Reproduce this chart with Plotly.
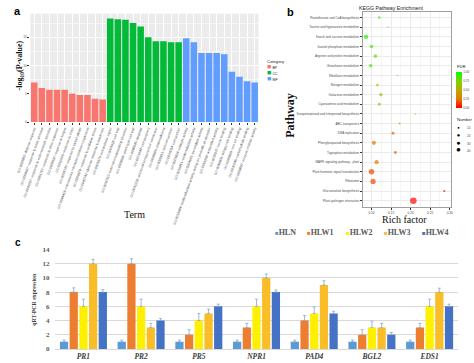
import numpy as np
import plotly.graph_objects as go

W, H = 474, 363

# ---------------- Panel a: GO enrichment ----------------
go_bp_terms = [
    "GO:0006952~defense response",
    "GO:0009607~response to biotic stimulus",
    "GO:0043207~response to external biotic stimulus",
    "GO:0051707~response to other organism",
    "GO:0009620~response to fungus",
    "GO:0010200~response to chitin",
    "GO:0009743~response to carbohydrate",
    "GO:0044419~interspecies interaction between organisms",
    "GO:0006979~response to oxidative stress",
    "GO:0042742~defense response to bacterium",
]
go_bp_values = [7.0, 6.0, 5.7, 5.7, 5.7, 5.05, 4.8, 4.8, 4.1, 4.0]

go_cc_terms = [
    "GO:0005576~extracellular region",
    "GO:0005618~cell wall",
    "GO:0030312~external encapsulating structure",
    "GO:0009505~plant-type cell wall",
    "GO:0048046~apoplast",
    "GO:0071944~cell periphery",
    "GO:0031225~anchored component of membrane",
    "GO:0009506~plasmodesma",
    "GO:0005911~cell-cell junction",
    "GO:0030054~cell junction",
]
go_cc_values = [18.3, 18.2, 18.1, 17.5, 16.9, 15.0, 14.3, 14.3, 14.1, 14.1]

go_mf_terms = [
    "GO:0003824~catalytic activity",
    "GO:0016491~oxidoreductase activity",
    "GO:0004601~peroxidase activity",
    "GO:0016684~oxidoreductase activity, acting on peroxide as acceptor",
    "GO:0016209~antioxidant activity",
    "GO:0020037~heme binding",
    "GO:0046906~tetrapyrrole binding",
    "GO:0005506~iron ion binding",
    "GO:0030246~carbohydrate binding",
    "GO:0004857~enzyme inhibitor activity",
]
go_mf_values = [14.8, 14.1, 12.2, 12.2, 12.2, 12.0, 8.9, 8.0, 7.2, 7.0]

go_categories = ["BP", "CC", "MF"]
go_ytick_vals = [0, 5, 10, 15]

# ---------------- Panel b: KEGG enrichment ----------------
kegg_pathways = [
    "Pantothenate and CoA biosynthesis",
    "Taurine and hypotaurine metabolism",
    "Starch and sucrose metabolism",
    "Inositol phosphate metabolism",
    "Arginine and proline metabolism",
    "Glutathione metabolism",
    "Riboflavin metabolism",
    "Nitrogen metabolism",
    "Galactose metabolism",
    "Cyanoamino acid metabolism",
    "Sesquiterpenoid and triterpenoid biosynthesis",
    "ABC transporters",
    "DNA replication",
    "Phenylpropanoid biosynthesis",
    "Tryptophan metabolism",
    "MAPK signaling pathway - plant",
    "Plant hormone signal transduction",
    "Ribosome",
    "Glucosinolate biosynthesis",
    "Plant-pathogen interaction",
]
kegg_rich_factor = [0.120, 0.142, 0.086, 0.100, 0.110, 0.098, 0.166, 0.115, 0.124, 0.120,
                    0.2125, 0.172, 0.155, 0.106, 0.161, 0.113, 0.100, 0.104, 0.286, 0.207]
kegg_fdr = [0.85, 0.70, 0.95, 0.85, 0.78, 0.85, 0.60, 0.72, 0.60, 0.58,
            0.62, 0.50, 0.20, 0.25, 0.20, 0.25, 0.15, 0.15, 0.05, 0.02]
kegg_number = [6, 2, 19, 12, 12, 12, 2, 7, 10, 8,
               2, 4, 8, 17, 8, 17, 28, 26, 5, 40]
kegg_x_ticks = [0.10, 0.15, 0.20, 0.25, 0.30]
fdr_ticks = [0.0, 0.25, 0.50, 0.75, 1.0]
number_legend = [10, 20, 30, 40]

# ---------------- Panel c: qRT-PCR ----------------
genes = ["PR1", "PR2", "PR5", "NPR1", "PAD4", "BGL2", "EDS1"]
series_names = ["HLN", "HLW1", "HLW2", "HLW3", "HLW4"]
hln = [1, 1, 1, 1, 1, 1, 1]
hlw1 = [8, 12, 2, 3, 4, 2, 3]
hlw2 = [6, 6, 4, 6, 5, 3, 6]
hlw3 = [12, 3, 5, 10, 9, 3, 8]
hlw4 = [8, 4, 6, 8, 5, 2, 6]
hln_err = [0.25, 0.25, 0.25, 0.25, 0.25, 0.25, 0.25]
hlw1_err = [0.6, 0.7, 0.7, 0.6, 0.7, 0.7, 0.6]
hlw2_err = [1.0, 1.0, 1.0, 1.0, 0.9, 0.9, 1.0]
hlw3_err = [0.6, 0.6, 0.6, 0.55, 0.6, 0.6, 0.55]
hlw4_err = [0.35, 0.3, 0.3, 0.3, 0.3, 0.3, 0.3]
qpcr_yticks = [0, 2, 4, 6, 8, 10, 12, 14]

# ---------------- styles ----------------
cat_colors = {"BP": "#F8766D", "CC": "#00BA38", "MF": "#619CFF"}
series_colors = ["#5B9BD5", "#ED7D31", "#FFF000", "#F9BD28", "#4472C4"]
fdr_scale = [[0.0, "#FF0000"], [0.25, "#E57A00"], [0.5, "#B8AB00"],
             [0.75, "#7ED400"], [1.0, "#00FF00"]]
SERIF = "Liberation Serif"
SANS = "Liberation Sans"


def px(x):
    return x / W


def py(y):
    return 1 - y / H


def dot_diam(n):
    return 1.03 * np.sqrt(n)


fig = go.Figure()

# Panel a bars
all_terms = go_bp_terms + go_cc_terms + go_mf_terms
all_vals = go_bp_values + go_cc_values + go_mf_values
all_cats = []
for cat, terms in zip(go_categories, [go_bp_terms, go_cc_terms, go_mf_terms]):
    all_cats += [cat] * len(terms)
fig.add_trace(go.Bar(
    x=all_terms, y=all_vals, width=0.86,
    marker=dict(color=[cat_colors[c] for c in all_cats], line=dict(width=0)),
    xaxis="x", yaxis="y", showlegend=False,
))

# Panel b dots
fig.add_trace(go.Scatter(
    x=kegg_rich_factor, y=kegg_pathways, mode="markers",
    marker=dict(
        size=[dot_diam(n) for n in kegg_number], sizemode="diameter",
        color=kegg_fdr, colorscale=fdr_scale, cmin=0, cmax=1,
        line=dict(width=0),
        colorbar=dict(
            x=px(457.7), xanchor="left", xpad=0,
            y=py(87.5), yanchor="middle", ypad=0,
            len=37 / H, lenmode="fraction",
            thickness=5.5, thicknessmode="pixels",
            outlinewidth=0, ticks="",
            tickvals=fdr_ticks, ticktext=["%.2f" % v for v in fdr_ticks],
            tickfont=dict(size=3.2, color="#4D4D4D", family=SANS),
        ),
    ),
    xaxis="x2", yaxis="y2", showlegend=False,
))

# Panel c bars
for name, vals, errs, col in zip(series_names, [hln, hlw1, hlw2, hlw3, hlw4],
                                 [hln_err, hlw1_err, hlw2_err, hlw3_err, hlw4_err],
                                 series_colors):
    fig.add_trace(go.Bar(
        x=genes, y=vals, name=name, marker=dict(color=col, line=dict(width=0)),
        error_y=dict(type="data", array=errs, symmetric=False,
                     arrayminus=[0] * len(errs), color="#8EA6CC",
                     thickness=0.8, width=1.5),
        xaxis="x3", yaxis="y3", showlegend=False,
    ))

annotations = []


def ann(text, x, y, size, family=SANS, color="#222", xanchor="center",
        yanchor="middle", angle=0, weight="normal", style="normal", align="center"):
    annotations.append(dict(
        text=text, x=px(x), y=py(y), xref="paper", yref="paper",
        xanchor=xanchor, yanchor=yanchor, showarrow=False, textangle=angle,
        align=align, borderpad=0,
        font=dict(size=size, family=family, color=color, weight=weight, style=style),
    ))


# panel letters
ann("a", 4, 7, 11, weight="bold", color="#000")
ann("b", 286, 8, 11, weight="bold", color="#000")
ann("c", 4, 244, 10, weight="bold", color="#000")

# panel a texts
ann("-log<sub>10</sub>(P-value)", 6, 63, 8, family=SERIF, angle=-90, weight="bold", color="#111")
ann("Term", 125, 215, 10, family=SERIF, color="#111")
ann("Category", 261, 59, 4.2, xanchor="left")
cat_lines = "<br>".join(
    "<span style='font-size:7px;color:%s'>■</span> <span style='font-size:3.5px'>%s</span>"
    % (cat_colors[c], c) for c in go_categories)
ann(cat_lines, 260.5, 70.5, 4.6, xanchor="left", align="left")

# panel b texts
ann("KEGG Pathway Enrichment", 391, 4, 5.2, color="#222")
ann("Pathway", 286, 114, 12, family=SERIF, angle=-90, weight="bold", color="#111")
ann("Rich factor", 404, 220.5, 10, family=SERIF, color="#111")
ann("FDR", 457.7, 63.5, 4.2, xanchor="left")
ann("Number", 457.7, 118.5, 4.2, xanchor="left")
dot_lines = "<br>".join(
    "<span style='font-size:%.1fpx'>●</span>" % (dot_diam(n) / 0.8) for n in number_legend)
ann(dot_lines, 460.3, 138.4, 6, color="#000")
num_lines = "<br>".join(
    "<span style='font-size:3.2px'>%d</span>" % n for n in number_legend)
ann(num_lines, 467.6, 138.4, 6, xanchor="left", align="left", color="#4D4D4D")

# panel c texts
ann("qRT-PCR expression", 20.5, 301.5, 5.8, family=SERIF, angle=-90, weight="bold", color="#404040")
leg_x = [269.5, 302, 342.5, 381.5, 421]
for name, col, lx in zip(series_names, series_colors, leg_x):
    ann("<span style='font-size:6px;color:%s'>■</span><b>%s</b>" % (col, name),
        lx, 234, 8, family=SERIF, xanchor="left", color="#595959")

fig.update_layout(
    width=W, height=H, autosize=False,
    margin=dict(l=0, r=0, t=0, b=0),
    paper_bgcolor="white", plot_bgcolor="white",
    barmode="group", bargap=0.16, bargroupgap=0.15,
    annotations=annotations,
    shapes=[dict(type="rect", xref="x domain", yref="y domain", x0=0, x1=1, y0=0, y1=1,
                 fillcolor="#EBEBEB", line=dict(width=0), layer="below")],
    xaxis=dict(
        domain=[px(17), px(253)], anchor="y", type="category",
        categoryorder="array", categoryarray=all_terms, range=[-0.5, len(all_terms) - 0.5],
        tickangle=-70, tickfont=dict(size=3.4, family=SANS, color="#4D4D4D"),
        ticks="outside", ticklen=2, tickwidth=0.5, tickcolor="#333",
        showgrid=True, gridcolor="white", gridwidth=0.8, zeroline=False, showline=False,
    ),
    yaxis=dict(
        domain=[py(120.7), py(10)], anchor="x", range=[0, 19.15],
        tickvals=go_ytick_vals, tickfont=dict(size=3.2, family=SANS, color="#4D4D4D"),
        ticks="outside", ticklen=2, tickwidth=0.5, tickcolor="#333",
        showgrid=True, gridcolor="white", gridwidth=0.8, zeroline=False, showline=False,
        minor=dict(dtick=2.5, showgrid=True, gridcolor="#F6F6F6", gridwidth=0.4),
    ),
    xaxis2=dict(
        domain=[px(361), px(452)], anchor="y2", range=[0.0778, 0.3025],
        tickvals=kegg_x_ticks, ticktext=["%.2f" % v for v in kegg_x_ticks],
        tickfont=dict(size=3.2, family=SANS, color="#4D4D4D"),
        ticks="outside", ticklen=2, tickwidth=0.5, tickcolor="#333",
        showgrid=True, gridcolor="#EBEBEB", gridwidth=0.6, zeroline=False,
        minor=dict(dtick=0.025, showgrid=True, gridcolor="#F5F5F5", gridwidth=0.4),
        showline=True, mirror=True, linecolor="#A0A0A0", linewidth=1,
    ),
    yaxis2=dict(
        domain=[py(208), py(8)], anchor="x2", type="category",
        categoryorder="array", categoryarray=kegg_pathways,
        range=[len(kegg_pathways) - 0.3, -0.6],
        tickfont=dict(size=3.1, family=SANS, color="#4D4D4D"),
        ticks="outside", ticklen=2, tickwidth=0.5, tickcolor="#333",
        showgrid=True, gridcolor="#EBEBEB", gridwidth=0.6, zeroline=False,
        showline=True, mirror=True, linecolor="#A0A0A0", linewidth=1,
    ),
    xaxis3=dict(
        domain=[px(42), px(460)], anchor="y3", type="category",
        categoryorder="array", categoryarray=genes,
        tickfont=dict(size=7.5, family=SERIF, color="#404040", weight="bold", style="italic"),
        ticks="", showgrid=False, zeroline=False,
        showline=True, linecolor="#D9D9D9", linewidth=0.8,
    ),
    yaxis3=dict(
        domain=[py(352.7), py(251)], anchor="x3", range=[0, 14],
        tickvals=qpcr_yticks,
        tickfont=dict(size=7, family=SERIF, color="#595959", weight="bold"),
        ticks="", ticklabelstandoff=4,
        showgrid=True, gridcolor="#D9D9D9", gridwidth=0.7, zeroline=False, showline=False,
    ),
)

# remove the browser's default 8px body margin so the 474x363 figure fills the window
fig.write_html("out.html", config={"displayModeBar": False},
               post_script="document.body.style.margin='0';document.body.style.overflow='hidden';")
